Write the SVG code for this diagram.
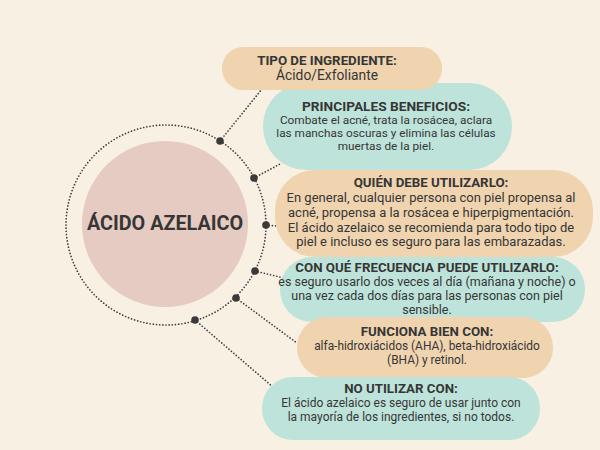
<svg xmlns="http://www.w3.org/2000/svg" width="600" height="450" viewBox="0 0 600 450">
<style>
.bg{fill:#F8F0E3}
.beige{fill:#EFD4AF}
.teal{fill:#BEE3DA}
.t{font-family:Roboto,"Liberation Sans",sans-serif;fill:#363636;text-anchor:middle;font-size:12px}
.h{font-weight:bold;font-size:13.3px}
.dot{fill:#3A3A3A}
.dl{fill:none;stroke:#3A3A3A;stroke-width:1.7;stroke-linecap:round;stroke-dasharray:0 3.2}
</style>
<rect class="bg" x="0" y="0" width="600" height="450"/>
<g id="connectors">
<circle class="dl" cx="166" cy="225" r="100"/>
<line class="dl" x1="220" y1="141" x2="262" y2="89"/>
<line class="dl" x1="254" y1="178" x2="280" y2="164"/>
<line class="dl" x1="266" y1="225" x2="277" y2="226"/>
<line class="dl" x1="255" y1="271" x2="284" y2="278"/>
<line class="dl" x1="236" y1="298" x2="297" y2="343"/>
<line class="dl" x1="195" y1="320" x2="273" y2="387"/>
<circle class="dot" cx="220" cy="141" r="3.8"/>
<circle class="dot" cx="254" cy="178" r="3.8"/>
<circle class="dot" cx="266" cy="225" r="3.8"/>
<circle class="dot" cx="255" cy="271" r="3.8"/>
<circle class="dot" cx="236" cy="298" r="3.8"/>
<circle class="dot" cx="195" cy="320" r="3.8"/>
</g>
<g id="center">
<circle cx="165" cy="224" r="83" fill="#E6CBC2"/>
<text class="t" x="165" y="230" style="font-size:19.8px;font-weight:bold">ÁCIDO AZELAICO</text>
</g>
<g id="beneficios">
<rect class="teal" x="263" y="83" width="249" height="87" rx="43"/>
<text class="t h" x="386" y="111" style="font-size:13.7px">PRINCIPALES BENEFICIOS:</text>
<text class="t" x="386" y="124" style="font-size:11.8px">Combate el acné, trata la rosácea, aclara</text>
<text class="t" x="386" y="137" style="font-size:11.8px">las manchas oscuras y elimina las células</text>
<text class="t" x="386" y="150" style="font-size:11.8px">muertas de la piel.</text>
</g>
<g id="tipo">
<rect class="beige" x="222" y="47" width="220" height="43" rx="21"/>
<text class="t h" x="327" y="65">TIPO DE INGREDIENTE:</text>
<text class="t" x="327" y="80" style="font-size:13.8px">Ácido/Exfoliante</text>
</g>
<g id="quien">
<rect class="beige" x="275" y="170" width="318" height="87" rx="40"/>
<text class="t h" x="431" y="187">QUIÉN DEBE UTILIZARLO:</text>
<text class="t" x="431" y="202" style="font-size:13px">En general, cualquier persona con piel propensa al</text>
<text class="t" x="431" y="217" style="font-size:13px">acné, propensa a la rosácea e hiperpigmentación.</text>
<text class="t" x="431" y="232" style="font-size:13px">El ácido azelaico se recomienda para todo tipo de</text>
<text class="t" x="431" y="246" style="font-size:13px">piel e incluso es seguro para las embarazadas.</text>
</g>
<g id="frecuencia">
<rect class="teal" x="280" y="257" width="305" height="65" rx="32"/>
<text class="t h" x="427" y="272">CON QUÉ FRECUENCIA PUEDE UTILIZARLO:</text>
<text class="t" x="427" y="286" style="font-size:12.5px">es seguro usarlo dos veces al día (mañana y noche) o</text>
<text class="t" x="427" y="300" style="font-size:12.5px">una vez cada dos días para las personas con piel</text>
<text class="t" x="427" y="314" style="font-size:12.5px">sensible.</text>
</g>
<g id="funciona">
<rect class="beige" x="297" y="317" width="256" height="61" rx="30"/>
<text class="t h" x="427" y="336">FUNCIONA BIEN CON:</text>
<text class="t" x="427" y="350" style="font-size:11.9px">alfa-hidroxiácidos (AHA), beta-hidroxiácido</text>
<text class="t" x="427" y="364" style="font-size:11.9px">(BHA) y retinol.</text>
</g>
<g id="noutilizar">
<rect class="teal" x="262" y="377" width="278" height="63" rx="31"/>
<text class="t h" x="401" y="393">NO UTILIZAR CON:</text>
<text class="t" x="401" y="407">El ácido azelaico es seguro de usar junto con</text>
<text class="t" x="401" y="421">la mayoría de los ingredientes, si no todos.</text>
</g>
</svg>
